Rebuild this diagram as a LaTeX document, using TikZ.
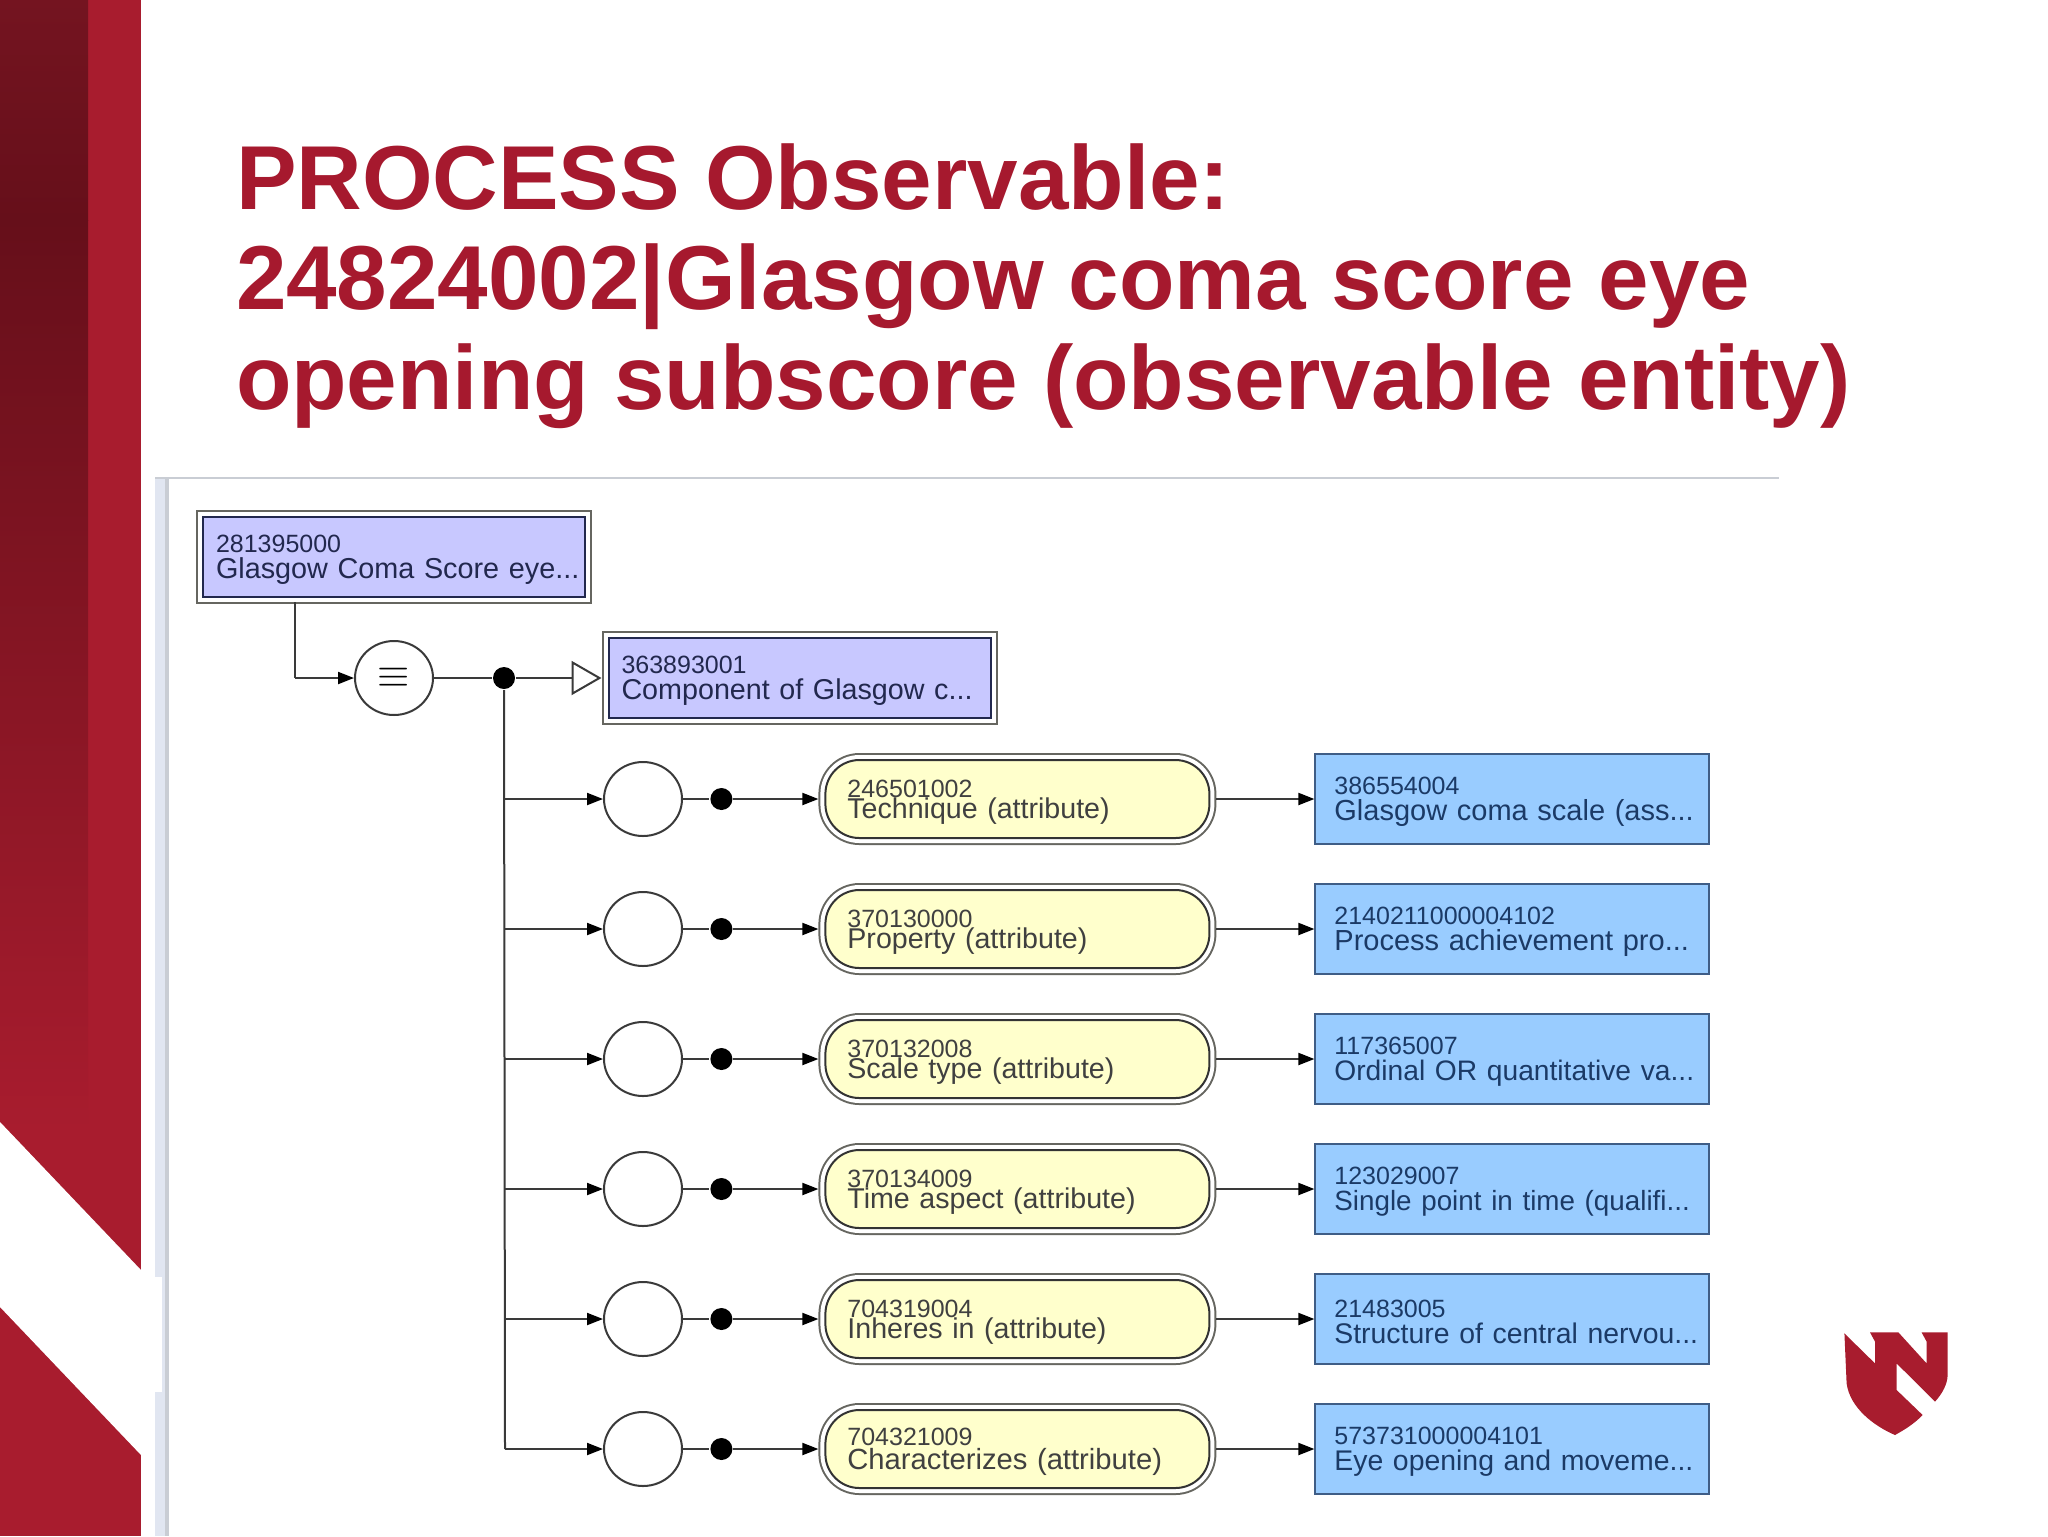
\documentclass[tikz,border=0pt]{standalone}
\usepackage{fontspec}
\setmainfont{Liberation Sans}
\usepackage{tikz}
\usetikzlibrary{
  arrows.meta,
  shapes.geometric,
  chains,
  matrix,
  positioning,
  scopes
}
\definecolor{unmcred}{HTML}{A81C2E}
\definecolor{titlered}{HTML}{A6192E}
\definecolor{darkred}{HTML}{660F1A}
\definecolor{topred}{HTML}{741420}
\definecolor{edgegray}{HTML}{3A3A3A}
\definecolor{framegray}{HTML}{666660}
\definecolor{framenavy}{HTML}{22284E}
\definecolor{lilacfill}{HTML}{C8C8FF}
\definecolor{creamfill}{HTML}{FFFFCC}
\definecolor{skyfill}{HTML}{99CCFF}
\definecolor{skyedge}{HTML}{3F5D86}
\definecolor{skytext}{HTML}{1B3A66}
\definecolor{stripblue}{HTML}{E1E6F1}
\definecolor{stripgray}{HTML}{C9CDD4}
\newcommand{\idfont}{\fontsize{12.5}{12.5}\selectfont}
\newcommand{\idname}[2]{{\idfont\rule{0pt}{11.6pt}#1}\\\mbox{#2}}
\newcommand{\fitsize}[1]{\fontsize{#1}{13}\selectfont}

\begin{document}
\begin{tikzpicture}[
      x=1pt,y=-1pt,
      defined/.style={
         rectangle,
         minimum width=191pt,
         minimum height=40pt,
         inner xsep=6.5pt,
         text width=178pt,
         align=left,
         outer sep=3.5pt,
         line width=1pt,
         draw=framenavy,
         fill=lilacfill,
         text=framenavy,
         preaction={draw=framegray,line width=7pt},
         preaction={draw=white,line width=5pt},
         font=\fontsize{14.4}{13}\selectfont,
      },
      attribute/.style={
         rectangle,
         rounded corners=17pt,
         minimum width=192pt,
         minimum height=39pt,
         inner xsep=11pt,
         text width=170pt,
         align=left,
         outer sep=3.5pt,
         line width=1pt,
         draw=black!80,
         fill=creamfill,
         text=black!75,
         preaction={draw=framegray,line width=7pt},
         preaction={draw=white,line width=5pt},
         font=\fontsize{14.3}{10.5}\selectfont,
      },
      valuebox/.style={
         rectangle,
         minimum width=197pt,
         minimum height=45pt,
         inner xsep=9.5pt,
         text width=178pt,
         align=left,
         line width=1pt,
         draw=skyedge,
         fill=skyfill,
         text=skytext,
         font=\fontsize{14.5}{13}\selectfont,
      },
      group/.style={
         ellipse,
         minimum width=39pt,
         minimum height=37pt,
         inner sep=0pt,
         line width=1pt,
         draw=edgegray,
         fill=white,
      },
      junction/.style={
         circle,
         minimum size=11pt,
         inner sep=0pt,
         fill=black,
      },
      point/.style={coordinate},
      line width=1pt,
      >={Stealth[length=8pt,width=6pt,inset=0pt,black]},
      tip/.style={->,draw=edgegray},
      opentip/.style={-{Triangle[open,length=15pt,width=17pt]},draw=edgegray},
      every join/.style={draw=edgegray},
    ]
    \useasboundingbox (0,0) rectangle (1024,768);
    % slide background
    \fill[white] (0,0) rectangle (1024,768);
    \fill[unmcred] (0,0) rectangle (70.5,768);
    \shade[top color=topred,bottom color=darkred] (0,0) rectangle (44,110);
    \shade[top color=darkred,bottom color=unmcred] (0,110) rectangle (44,565);
    \fill[white] (0,561) -- (70.5,635) -- (70.5,727.5) -- (0,653.5) -- cycle;
    \fill[stripblue] (77.5,239) rectangle (82.5,768);
    \fill[stripgray] (82.5,239) rectangle (84.5,768);
    \fill[white] (77.5,638.5) rectangle (81,696);
    \fill[stripgray] (77.5,238.5) rectangle (889.5,239.5);
    \node (title) [anchor=north west, inner sep=0pt, align=left, text=titlered,
       font=\fontsize{45.4}{49.9}\selectfont\bfseries] at (117.5,71.6)
       {PROCESS Observable:\\24824002|Glasgow coma score eye\\opening subscore (observable entity)};
    % logo
    \fill[unmcred] (922.2,666.7) -- (937.5,681.7) -- (937.5,670.8) -- (935,666.2) -- (949.2,666.2)
       -- (963.3,681.7) -- (963.3,670.8) -- (960.8,666.2) -- (973.8,666.2) -- (973.8,687.5)
       .. controls (973.8,692) and (971,697) .. (967.5,700.8) -- (948.3,681.7) -- (948.3,695)
       -- (961.3,707.5) .. controls (957,712) and (952,715) .. (947.5,717.5)
       .. controls (937,713) and (925,704) .. (923.3,691.7) -- cycle;
    % top row
    \node (n01) [defined] at (197,278.5) {\idname{281395000}{Glasgow Coma Score eye...}};
    \node (n02) [point] at (147.5,301) {};
    \node (n03) [point] at (147.5,339) {};
    \node (n04) [group, font=\fontsize{22}{22}\selectfont] at (197,339) {$\equiv$};
    \node (n05) [junction] at (252,339) {};
    \node (n06) [defined] at (399.75,339) {\idname{363893001}{\fitsize{14.35}Component of Glasgow c...}};
    \matrix[anchor=north west, inner sep=0pt, nodes={anchor=center}, row sep=19pt] at (252,376) {
\node (n11) [point] {}; &[49pt] \node (n12) [group] {}; &[13.7pt] \node (n13) [junction] {}; &[43pt] \node (n14) [attribute] {\idname{246501002}{Technique (attribute)}}; &[49pt] \node (n15) [valuebox] {\idname{386554004}{Glasgow coma scale (ass...}};\\
\node (n21) [point] {}; & \node (n22) [group] {}; & \node (n23) [junction] {}; & \node (n24) [attribute] {\idname{370130000}{Property (attribute)}}; & \node (n25) [valuebox] {\idname{2140211000004102}{Process achievement pro...}};\\
\node (n31) [point] {}; & \node (n32) [group] {}; & \node (n33) [junction] {}; & \node (n34) [attribute] {\idname{370132008}{Scale type (attribute)}}; & \node (n35) [valuebox] {\idname{117365007}{\fitsize{14.1}Ordinal OR quantitative va...}};\\
\node (n41) [point] {}; & \node (n42) [group] {}; & \node (n43) [junction] {}; & \node (n44) [attribute] {\idname{370134009}{Time aspect (attribute)}}; & \node (n45) [valuebox] {\idname{123029007}{\fitsize{13.9}Single point in time (qualifi...}};\\
\node (n51) [point] {}; & \node (n52) [group] {}; & \node (n53) [junction] {}; & \node (n54) [attribute] {\idname{704319004}{Inheres in (attribute)}}; & \node (n55) [valuebox] {\idname{21483005}{\fitsize{14.2}Structure of central nervou...}};\\
\node (n61) [point] {}; & \node (n62) [group] {}; & \node (n63) [junction] {}; & \node (n64) [attribute] {\idname{704321009}{\fitsize{14.6}Characterizes (attribute)}}; & \node (n65) [valuebox] {\idname{573731000004101}{\fitsize{14.2}Eye opening and moveme...}};\\
    };
  { [start chain]
       \chainin (n02);
       \chainin (n03)    [join];
       \chainin (n04)    [join=by tip];
       \chainin (n05)    [join];
       \chainin (n06)    [join=by opentip];
  }
  { [start chain]
       \chainin (n05);
       \chainin (n61)    [join];
  }
  { [start chain]
       \chainin (n11);
       \chainin (n12)    [join=by tip];
       \chainin (n13)    [join];
       \chainin (n14)    [join=by tip];
       \chainin (n15)    [join=by tip];
  }
  { [start chain]
       \chainin (n21);
       \chainin (n22)    [join=by tip];
       \chainin (n23)    [join];
       \chainin (n24)    [join=by tip];
       \chainin (n25)    [join=by tip];
  }
  { [start chain]
       \chainin (n31);
       \chainin (n32)    [join=by tip];
       \chainin (n33)    [join];
       \chainin (n34)    [join=by tip];
       \chainin (n35)    [join=by tip];
  }
  { [start chain]
       \chainin (n41);
       \chainin (n42)    [join=by tip];
       \chainin (n43)    [join];
       \chainin (n44)    [join=by tip];
       \chainin (n45)    [join=by tip];
  }
  { [start chain]
       \chainin (n51);
       \chainin (n52)    [join=by tip];
       \chainin (n53)    [join];
       \chainin (n54)    [join=by tip];
       \chainin (n55)    [join=by tip];
  }
  { [start chain]
       \chainin (n61);
       \chainin (n62)    [join=by tip];
       \chainin (n63)    [join];
       \chainin (n64)    [join=by tip];
       \chainin (n65)    [join=by tip];
  }
\end{tikzpicture}
\end{document}
